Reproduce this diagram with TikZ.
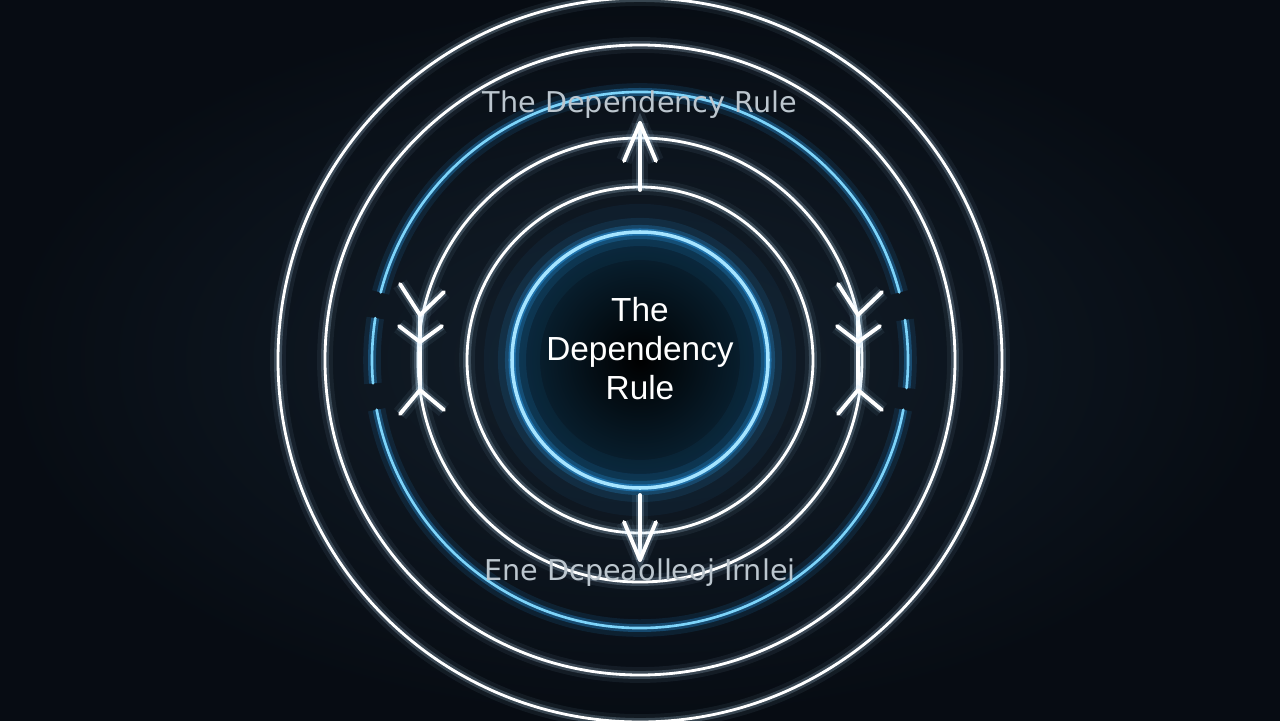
\documentclass[tikz,border=0pt]{standalone}
\usepackage{fontspec}
\setmainfont{Liberation Sans}
\newfontfamily\ringfont{DejaVu Sans}
\usetikzlibrary{calc}
\definecolor{bgdark}{RGB}{7,12,19}
\definecolor{bghaze}{RGB}{19,31,43}
\definecolor{glowblue}{RGB}{40,150,225}
\definecolor{ringblue}{RGB}{125,212,250}
\definecolor{corecyan}{RGB}{165,228,255}
\definecolor{textgray}{RGB}{188,198,206}
\tikzset{
  wline/.style={white, line width=1.6pt, line cap=round, line join=round,
    preaction={draw, glowblue!40!white, line width=9pt, opacity=0.07},
    preaction={draw, glowblue!30!white, line width=4.5pt, opacity=0.22}},
  bline/.style={ringblue, line width=1.5pt, line cap=round,
    preaction={draw, glowblue, line width=10pt, opacity=0.12},
    preaction={draw, glowblue, line width=4.5pt, opacity=0.35}},
  cline/.style={corecyan, line width=2pt,
    preaction={draw, glowblue, line width=32pt, opacity=0.06},
    preaction={draw, glowblue, line width=16pt, opacity=0.12},
    preaction={draw, glowblue, line width=8pt, opacity=0.25},
    preaction={draw, glowblue, line width=4pt, opacity=0.5}},
  arrowline/.style={wline, line width=2.2pt},
  ringtext/.style={font=\ringfont\fontsize{16.3}{19}\selectfont, textgray, anchor=base}
}
\begin{document}
\begin{tikzpicture}[x=0.02cm,y=0.02cm]
  \useasboundingbox (-640,-360) rectangle (640,360);
  \clip (-640,-360) rectangle (640,360);
  \fill[bgdark] (-640,-360) rectangle (640,360);
  \shade[inner color=bghaze, outer color=bgdark] (-640,-360) rectangle (640,360);
  % inner core
  \shade[inner color=black, outer color=glowblue!25!black] (0,0) circle[radius=128];
  % white rings
  \foreach \r in {362,315,222,173}
    \draw[wline] (0,0) circle[radius=\r];
  % blue ring with gaps
  \draw[bline] (0,0) ++(14.6:268) arc[start angle=14.6, end angle=165.4, radius=268];
  \draw[bline] (0,0) ++(171:268) arc[start angle=171, end angle=185, radius=268];
  \draw[bline] (0,0) ++(190.7:268) arc[start angle=190.7, end angle=349.3, radius=268];
  \draw[bline] (0,0) ++(-6:268) arc[start angle=-6, end angle=8.6, radius=268];
  \draw[cline] (0,0) circle[radius=128];
  % arrows
  \coordinate (uptail) at (0,170);
  \coordinate (uptip) at (0,237);
  \coordinate (downtail) at (0,-135);
  \coordinate (downtip) at (0,-200);
  \draw[arrowline] (uptail) -- (uptip);
  \draw[arrowline] (uptip) ++(-16,-38) -- (uptip) -- +(16,-38);
  \draw[arrowline] (downtail) -- (downtip);
  \draw[arrowline] (downtip) ++(-16,38) -- (downtip) -- +(16,38);
  \foreach \x in {-220,218}{
    \draw[arrowline] (\x,45) -- (\x,-30);
    \draw[arrowline] (\x-20,76) -- (\x,45) -- (\x+24,68);
    \draw[arrowline] (\x-21,34) -- (\x,18) -- (\x+22,34);
    \draw[arrowline] (\x-20,-54) -- (\x,-30) -- (\x+24,-50);
  }
  % labels
  \node[ringtext] (title) at (0,247) {The Dependency Rule};
  \node[ringtext] (footer) at (0,-220) {Ene Dcpeaolleoj Irnlei};
  \node[white, align=center, font=\fontsize{19}{22.2}\selectfont] (core) at (0,11) {The\\Dependency\\Rule};
\end{tikzpicture}
\end{document}
